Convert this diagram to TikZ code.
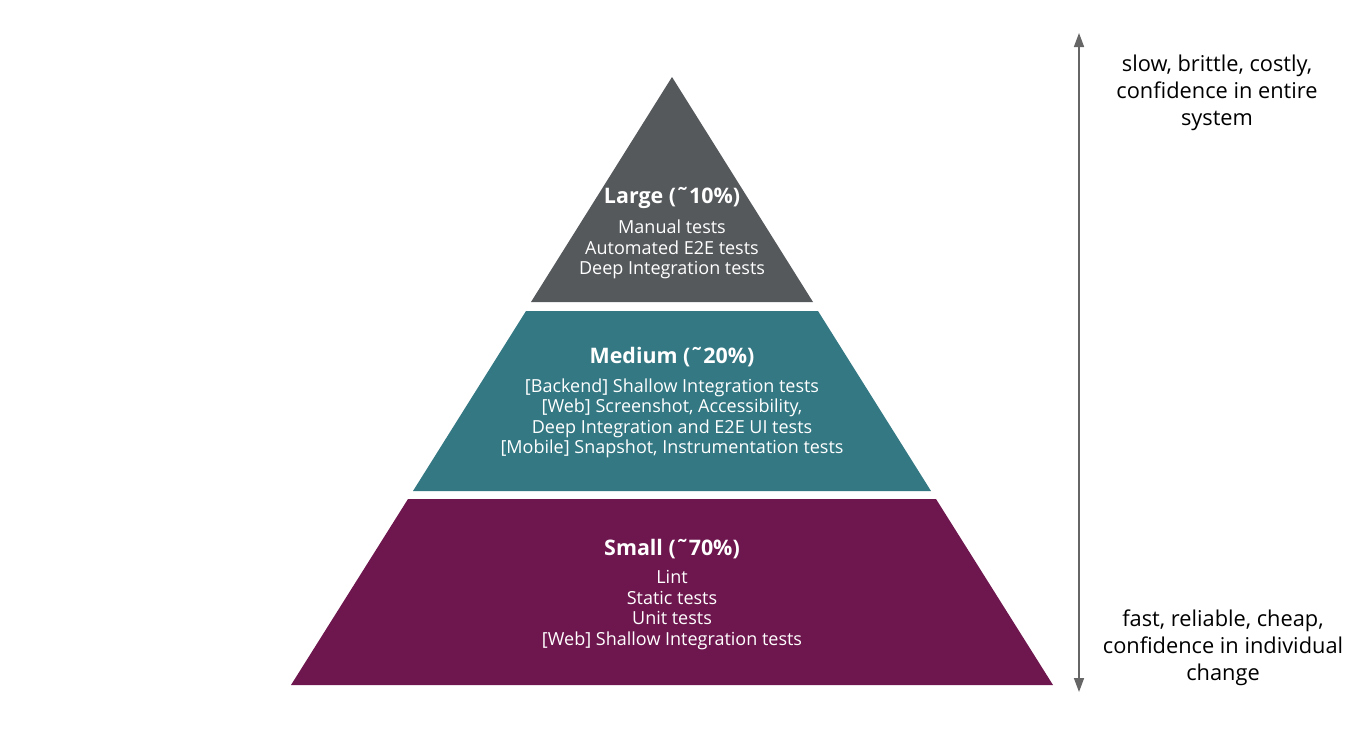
\documentclass[tikz,border=0pt]{standalone}
\usepackage{fontspec}
\setmainfont{Open Sans}
\usetikzlibrary{arrows.meta}
\definecolor{lgray}{HTML}{55595C}
\definecolor{mteal}{HTML}{337883}
\definecolor{spurple}{HTML}{6E174E}
\definecolor{arrgray}{HTML}{666666}
\newcommand{\tld}{\symbol{"02DC}}
\tikzset{
  head/.style={text=white, font=\fontsize{21.4}{24}\selectfont\bfseries, anchor=center, inner sep=0pt},
  body/.style={text=white, font=\fontsize{18}{20.4}\selectfont, align=center, anchor=center, inner sep=0pt},
  side/.style={text=black, font=\fontsize{21.8}{27}\selectfont, align=center, anchor=center, inner sep=0pt},
  scale arrow/.style={draw=arrgray, line width=1.5pt, {Triangle[length=14pt,width=10pt]}-{Triangle[length=14pt,width=10pt]}}
}
\begin{document}
\begin{tikzpicture}[x=1pt,y=-1pt]
\useasboundingbox (0,0) rectangle (1360,732);
% layers
\fill[lgray] (672,77) -- (813,302) -- (531,302) -- cycle;
\fill[mteal] (526,311) -- (818,311) -- (931,491) -- (413,491) -- cycle;
\fill[spurple] (408,499) -- (936,499) -- (1053,685) -- (291,685) -- cycle;
% texts
\node[head] (lh) at (672,198) {Large (\tld10\%)};
\node[body] (lb) at (672,249.5) {Manual tests\\Automated E2E tests\\Deep Integration tests};
\node[head] (mh) at (672,357) {Medium (\tld20\%)};
\node[body] (mb) at (672,418.5) {[Backend] Shallow Integration tests\\[0pt] [Web] Screenshot, Accessibility,\\Deep Integration and E2E UI tests\\{}[Mobile] Snapshot, Instrumentation tests};
\node[head] (sh) at (672,549) {Small (\tld70\%)};
\node[body] (sb) at (672,610) {Lint\\Static tests\\Unit tests\\{}[Web] Shallow Integration tests};
% scale arrow
\coordinate (atop) at (1079,33);
\coordinate (abot) at (1079,692);
\draw[scale arrow] (atop) -- (abot);
\node[side] (slow) at (1217,93) {slow, brittle, costly,\\confidence in entire\\system};
\node[side] (fast) at (1223,648) {fast, reliable, cheap,\\confidence in individual\\change};
\end{tikzpicture}
\end{document}
